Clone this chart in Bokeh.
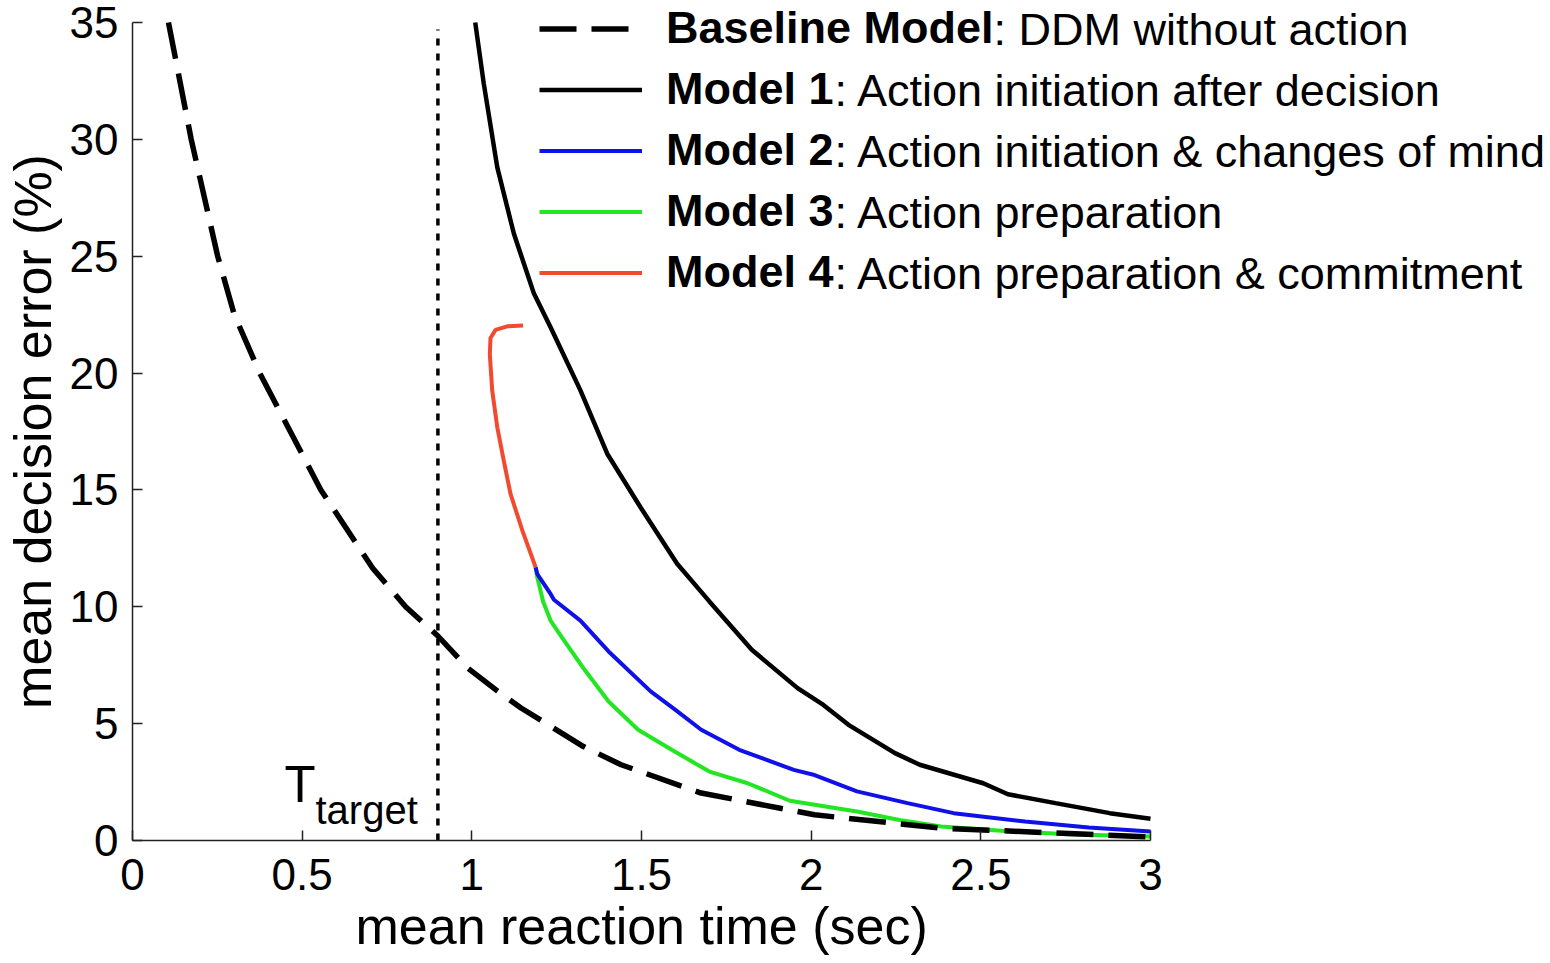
from bokeh.plotting import figure
from bokeh.models import Range1d, FixedTicker, Legend, LegendItem, Label, Title
from bokeh.embed import file_html
from bokeh.resources import INLINE

# ---------------- data ----------------
BASELINE_RT = [0.106, 0.173, 0.251, 0.30, 0.375, 0.555, 0.708, 0.805, 0.90, 0.987,
               1.076, 1.145, 1.329, 1.44, 1.676, 2.01, 2.38, 3.0]
BASELINE_ERR = [35.0, 30.0, 25.0, 22.5, 20.0, 15.0, 11.65, 10.0, 8.75, 7.39,
                6.39, 5.67, 4.02, 3.24, 2.03, 1.1, 0.53, 0.15]

MODEL1_RT = [1.01, 1.035, 1.075, 1.124, 1.183, 1.232, 1.32, 1.399, 1.497, 1.605, 1.70,
             1.825, 1.96, 2.036, 2.11, 2.247, 2.32, 2.507, 2.58, 2.72, 2.88, 3.0]
MODEL1_ERR = [35.0, 32.4, 28.8, 25.96, 23.4, 21.96, 19.26, 16.55, 14.26, 11.84, 10.23,
              8.16, 6.52, 5.8, 4.95, 3.74, 3.24, 2.45, 1.98, 1.6, 1.17, 0.93]

MODEL2_RT = [1.188, 1.193, 1.232, 1.242, 1.32, 1.403, 1.527, 1.60, 1.676, 1.788,
             1.949, 2.01, 2.135, 2.284, 2.42, 2.63, 2.818, 3.0]
MODEL2_ERR = [11.69, 11.4, 10.55, 10.3, 9.41, 8.09, 6.38, 5.59, 4.74, 3.88,
              3.02, 2.8, 2.1, 1.6, 1.17, 0.81, 0.56, 0.39]

MODEL3_RT = [1.188, 1.193, 1.21, 1.232, 1.267, 1.329, 1.403, 1.49, 1.589, 1.70,
             1.813, 1.937, 2.01, 2.135, 2.26, 2.383, 2.57, 2.756, 3.0]
MODEL3_ERR = [11.69, 11.25, 10.23, 9.41, 8.66, 7.37, 5.95, 4.74, 3.88, 2.95,
              2.45, 1.7, 1.53, 1.24, 0.88, 0.6, 0.41, 0.27, 0.17]

MODEL4_RT = [1.151, 1.104, 1.07, 1.055, 1.053, 1.06, 1.075, 1.094, 1.114, 1.149, 1.188]
MODEL4_ERR = [22.04, 22.0, 21.85, 21.5, 20.8, 19.26, 17.68, 16.26, 14.83, 13.26, 11.69]

T_TARGET = 0.9
T_TARGET_TOP = 34.7

X_TICKS = [0, 0.5, 1, 1.5, 2, 2.5, 3]
X_TICK_LABELS = ["0", "0.5", "1", "1.5", "2", "2.5", "3"]
Y_TICKS = [0, 5, 10, 15, 20, 25, 30, 35]
Y_TICK_LABELS = ["0", "5", "10", "15", "20", "25", "30", "35"]
X_AXIS_SPAN = (0, 3)
Y_AXIS_SPAN = (0, 35)

LEGEND_BOLD = ["Baseline Model", "Model 1", "Model 2", "Model 3", "Model 4"]
LEGEND_REST = [": DDM without action",
               ": Action initiation after decision",
               ": Action initiation & changes of mind",
               ": Action preparation",
               ": Action preparation & commitment"]

X_LABEL = "mean reaction time (sec)"
Y_LABEL = "mean decision error (%)"

# ---------------- layout (pixel positions on the page) ----------------
FONT = "Liberation Sans"
AX_LEFT_PX, AX_RIGHT_PX = 132, 1150      # x = 0 .. 3
AX_TOP_PX, AX_BOTTOM_PX = 22, 840        # y = 35 .. 0
FRAME_LEFT, FRAME_RIGHT = 132, 1548
FRAME_TOP, FRAME_BOTTOM = 0, 840
FIG_HEIGHT = 958

XS = (AX_RIGHT_PX - AX_LEFT_PX) / (X_AXIS_SPAN[1] - X_AXIS_SPAN[0])
YS = (AX_BOTTOM_PX - AX_TOP_PX) / (Y_AXIS_SPAN[1] - Y_AXIS_SPAN[0])
x_start = X_AXIS_SPAN[0] - (AX_LEFT_PX - FRAME_LEFT) / XS
x_end = X_AXIS_SPAN[1] + (FRAME_RIGHT - AX_RIGHT_PX) / XS
y_start = Y_AXIS_SPAN[0] - (FRAME_BOTTOM - AX_BOTTOM_PX) / YS
y_end = Y_AXIS_SPAN[1] + (AX_TOP_PX - FRAME_TOP) / YS


def px_to_x(px):
    return X_AXIS_SPAN[0] + (px - AX_LEFT_PX) / XS


def py_to_y(py):
    return Y_AXIS_SPAN[0] + (AX_BOTTOM_PX - py) / YS


p = figure(frame_width=FRAME_RIGHT - FRAME_LEFT, frame_height=FRAME_BOTTOM - FRAME_TOP,
           x_range=Range1d(x_start, x_end), y_range=Range1d(y_start, y_end),
           output_backend="svg", toolbar_location=None,
           min_border_left=FRAME_LEFT, min_border_top=FRAME_TOP,
           min_border_right=2, min_border_bottom=FIG_HEIGHT - FRAME_BOTTOM)
p.background_fill_color = "white"
p.border_fill_color = "white"
p.outline_line_color = None
p.grid.visible = False

r1 = p.line(MODEL1_RT, MODEL1_ERR, line_color="black", line_width=4.5)
r3 = p.line(MODEL3_RT, MODEL3_ERR, line_color="#22e622", line_width=4)
r2 = p.line(MODEL2_RT, MODEL2_ERR, line_color="#1010e8", line_width=4)
r4 = p.line(MODEL4_RT, MODEL4_ERR, line_color="#f24a30", line_width=4)
r0 = p.line(BASELINE_RT, BASELINE_ERR, line_color="black", line_width=5.5, line_dash="37 15")
p.line([T_TARGET, T_TARGET], [Y_AXIS_SPAN[0], T_TARGET_TOP], line_color="black",
       line_width=3.5, line_dash="7 8")

# axes
for ax in (p.xaxis[0], p.yaxis[0]):
    ax.axis_line_color = "#222222"
    ax.axis_line_width = 1.5
    ax.major_tick_line_color = "#222222"
    ax.major_tick_line_width = 1.5
    ax.major_tick_in = 10
    ax.major_tick_out = 0
    ax.minor_tick_line_color = None
    ax.major_label_text_font = FONT
    ax.major_label_text_font_size = "44px"
    ax.major_label_text_color = "black"

p.xaxis.bounds = X_AXIS_SPAN
p.yaxis.bounds = Y_AXIS_SPAN
p.xaxis.ticker = FixedTicker(ticks=X_TICKS)
p.yaxis.ticker = FixedTicker(ticks=Y_TICKS)
p.xaxis.major_label_overrides = {t: s for t, s in zip(X_TICKS, X_TICK_LABELS)}
p.yaxis.major_label_overrides = {t: s for t, s in zip(Y_TICKS, Y_TICK_LABELS)}
p.xaxis.major_label_standoff = 18
p.yaxis.major_label_standoff = 14

# axis titles, centred on the axis spans (x = 0..3, y = 0..35) rather than on the frame
LABEL_SIZE = 52
XLABEL_WIDTH_EM = 11.0    # Liberation Sans advance widths, in em
YLABEL_WIDTH_EM = 10.67
xlabel_origin_px = (AX_LEFT_PX + AX_RIGHT_PX) / 2 - XLABEL_WIDTH_EM * LABEL_SIZE / 2
ylabel_origin_px = (AX_TOP_PX + AX_BOTTOM_PX) / 2 + YLABEL_WIDTH_EM * LABEL_SIZE / 2
p.add_layout(Title(text=X_LABEL, align="left", offset=xlabel_origin_px - FRAME_LEFT,
                   vertical_align="top", standoff=8, text_font=FONT,
                   text_font_size=f"{LABEL_SIZE}px", text_font_style="normal",
                   text_color="black"), "below")
p.add_layout(Title(text=Y_LABEL, align="left", offset=FRAME_BOTTOM - ylabel_origin_px,
                   vertical_align="top", standoff=6, text_font=FONT,
                   text_font_size=f"{LABEL_SIZE}px", text_font_style="normal",
                   text_color="black"), "left")

# legend: line samples + bold names
ROW_PITCH = 61
FIRST_ROW_CENTER_PX = 28
legend_top_px = FIRST_ROW_CENTER_PX - ROW_PITCH / 2
legend_bottom_px = legend_top_px + ROW_PITCH * len(LEGEND_BOLD)
legend = Legend(
    items=[LegendItem(label=n, renderers=[r]) for n, r in zip(LEGEND_BOLD, [r0, r1, r2, r3, r4])],
    location=(539 - FRAME_LEFT, FRAME_BOTTOM - legend_bottom_px), orientation="vertical",
    label_text_font=FONT, label_text_font_size="45px", label_text_font_style="bold",
    label_text_color="black",
    glyph_width=103, glyph_height=ROW_PITCH, label_height=ROW_PITCH,
    spacing=0, padding=0, margin=0, label_standoff=24,
    border_line_color=None, background_fill_alpha=0,
)
p.add_layout(legend)

# regular part of each legend entry (baseline positions; Label draws ~16px low, corrected)
LABEL_SHIFT = 16
REST_PX = [993, 834, 834, 834, 834]
FIRST_BASELINE_PX = 45
for i, (txt, xpx) in enumerate(zip(LEGEND_REST, REST_PX)):
    p.add_layout(Label(x=px_to_x(xpx), y=py_to_y(FIRST_BASELINE_PX + i * ROW_PITCH - LABEL_SHIFT),
                       text=txt, text_font=FONT, text_font_size="45px",
                       text_color="black", text_align="left", text_baseline="alphabetic"))

# T_target annotation
p.add_layout(Label(x=px_to_x(284), y=py_to_y(800 - LABEL_SHIFT), text="T", text_font=FONT,
                   text_font_size="51px", text_color="black",
                   text_align="left", text_baseline="alphabetic"))
p.add_layout(Label(x=px_to_x(315), y=py_to_y(825 - LABEL_SHIFT), text="target", text_font=FONT,
                   text_font_size="40px", text_color="black",
                   text_align="left", text_baseline="alphabetic"))

open("out.html", "w").write(file_html(p, INLINE))
